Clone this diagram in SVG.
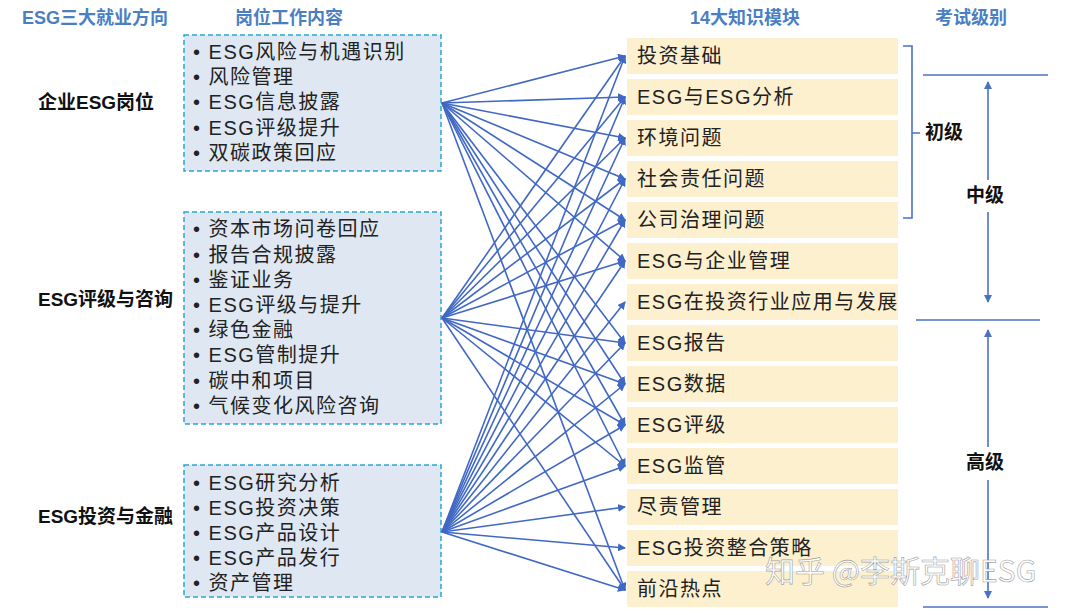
<svg xmlns="http://www.w3.org/2000/svg" width="1080" height="615" viewBox="0 0 1080 615">
<style>
.h{font:bold 18px "Liberation Sans","Noto Sans CJK SC",sans-serif;fill:#4a7fc4}
.t{font:20px "Liberation Sans","Noto Sans CJK SC",sans-serif;fill:#222;letter-spacing:1.5px}
.b{font:bold 19px "Liberation Sans","Noto Sans CJK SC",sans-serif;fill:#111}
.box{fill:#dfe8f2;stroke:#2aa7d4;stroke-width:1.5;stroke-dasharray:5 3}
.m{fill:#fdf0cf}
.c line{stroke:#4068c4;stroke-width:1.6;marker-end:url(#a)}
.lv{stroke:#4a72c4;stroke-width:1.6;fill:none}
</style>
<defs><marker id="a" markerWidth="8" markerHeight="8" refX="7" refY="4" orient="auto" markerUnits="userSpaceOnUse"><path d="M0,0L8,4L0,8z" fill="#4068c4"/></marker>
<marker id="v" markerWidth="8" markerHeight="8" refX="7" refY="4" orient="auto" markerUnits="userSpaceOnUse"><path d="M0,0L8,4L0,8z" fill="#4a72c4"/></marker></defs>
<rect width="1080" height="615" fill="#fff"/>
<g id="headers"><text class="h" x="22" y="24">ESG三大就业方向</text><text class="h" x="235" y="24">岗位工作内容</text><text class="h" x="690" y="24">14大知识模块</text><text class="h" x="935" y="24">考试级别</text></g>
<g id="dir1"><text class="b" x="38" y="109">企业ESG岗位</text></g>
<g id="dir2"><text class="b" x="38" y="306">ESG评级与咨询</text></g>
<g id="dir3"><text class="b" x="38" y="523">ESG投资与金融</text></g>
<g id="box1"><rect class="box" x="184" y="35" width="257" height="136"/>
<text class="t" x="193" y="59">•  ESG风险与机遇识别</text><text class="t" x="193" y="84">•  风险管理</text><text class="t" x="193" y="109">•  ESG信息披露</text><text class="t" x="193" y="135">•  ESG评级提升</text><text class="t" x="193" y="160">•  双碳政策回应</text></g>
<g id="box2"><rect class="box" x="184" y="212" width="257" height="212"/>
<text class="t" x="193" y="236">•  资本市场问卷回应</text><text class="t" x="193" y="262">•  报告合规披露</text><text class="t" x="193" y="287">•  鉴证业务</text><text class="t" x="193" y="312">•  ESG评级与提升</text><text class="t" x="193" y="337">•  绿色金融</text><text class="t" x="193" y="362">•  ESG管制提升</text><text class="t" x="193" y="388">•  碳中和项目</text><text class="t" x="193" y="413">•  气候变化风险咨询</text></g>
<g id="box3"><rect class="box" x="184" y="465" width="257" height="132"/>
<text class="t" x="193" y="490">•  ESG研究分析</text><text class="t" x="193" y="515">•  ESG投资决策</text><text class="t" x="193" y="540">•  ESG产品设计</text><text class="t" x="193" y="565">•  ESG产品发行</text><text class="t" x="193" y="590">•  资产管理</text></g>
<g id="modules">
<rect class="m" x="627" y="38" width="271" height="36"/><text class="t" x="637" y="63">投资基础</text>
<rect class="m" x="627" y="79" width="271" height="36"/><text class="t" x="637" y="104">ESG与ESG分析</text>
<rect class="m" x="627" y="120" width="271" height="36"/><text class="t" x="637" y="145">环境问题</text>
<rect class="m" x="627" y="161" width="271" height="36"/><text class="t" x="637" y="186">社会责任问题</text>
<rect class="m" x="627" y="202" width="271" height="36"/><text class="t" x="637" y="227">公司治理问题</text>
<rect class="m" x="627" y="243" width="271" height="36"/><text class="t" x="637" y="268">ESG与企业管理</text>
<rect class="m" x="627" y="284" width="271" height="36"/><text class="t" x="637" y="309">ESG在投资行业应用与发展</text>
<rect class="m" x="627" y="325" width="271" height="36"/><text class="t" x="637" y="350">ESG报告</text>
<rect class="m" x="627" y="366" width="271" height="36"/><text class="t" x="637" y="391">ESG数据</text>
<rect class="m" x="627" y="407" width="271" height="36"/><text class="t" x="637" y="432">ESG评级</text>
<rect class="m" x="627" y="448" width="271" height="36"/><text class="t" x="637" y="473">ESG监管</text>
<rect class="m" x="627" y="489" width="271" height="36"/><text class="t" x="637" y="514">尽责管理</text>
<rect class="m" x="627" y="530" width="271" height="36"/><text class="t" x="637" y="555">ESG投资整合策略</text>
<rect class="m" x="627" y="571" width="271" height="36"/><text class="t" x="637" y="596">前沿热点</text>
</g>
<g class="c" id="connectors">
<line x1="442" y1="103" x2="625" y2="56"/><line x1="442" y1="103" x2="625" y2="97"/><line x1="442" y1="103" x2="625" y2="138"/><line x1="442" y1="103" x2="625" y2="179"/><line x1="442" y1="103" x2="625" y2="220"/><line x1="442" y1="103" x2="625" y2="261"/><line x1="442" y1="103" x2="625" y2="343"/><line x1="442" y1="103" x2="625" y2="384"/><line x1="442" y1="103" x2="625" y2="425"/><line x1="442" y1="103" x2="625" y2="466"/><line x1="442" y1="103" x2="625" y2="590"/>
<line x1="442" y1="318" x2="625" y2="56"/><line x1="442" y1="318" x2="625" y2="97"/><line x1="442" y1="318" x2="625" y2="138"/><line x1="442" y1="318" x2="625" y2="179"/><line x1="442" y1="318" x2="625" y2="220"/><line x1="442" y1="318" x2="625" y2="261"/><line x1="442" y1="318" x2="625" y2="343"/><line x1="442" y1="318" x2="625" y2="384"/><line x1="442" y1="318" x2="625" y2="425"/><line x1="442" y1="318" x2="625" y2="466"/><line x1="442" y1="318" x2="625" y2="590"/>
<line x1="442" y1="532" x2="625" y2="56"/><line x1="442" y1="532" x2="625" y2="97"/><line x1="442" y1="532" x2="625" y2="138"/><line x1="442" y1="532" x2="625" y2="179"/><line x1="442" y1="532" x2="625" y2="220"/><line x1="442" y1="532" x2="625" y2="261"/><line x1="442" y1="532" x2="625" y2="302"/><line x1="442" y1="532" x2="625" y2="343"/><line x1="442" y1="532" x2="625" y2="384"/><line x1="442" y1="532" x2="625" y2="425"/><line x1="442" y1="532" x2="625" y2="466"/><line x1="442" y1="532" x2="625" y2="507"/><line x1="442" y1="532" x2="625" y2="548"/><line x1="442" y1="532" x2="625" y2="590"/>
</g>
<g id="levels">
<path class="lv" d="M903,46H912V218H903M912,133H920"/>
<text class="b" x="925" y="139">初级</text>
<line class="lv" x1="923" y1="75" x2="1048" y2="75"/><line class="lv" x1="916" y1="320" x2="1040" y2="320"/><line class="lv" x1="923" y1="607" x2="1048" y2="607"/>
<line class="lv" x1="988" y1="180" x2="988" y2="82" marker-end="url(#v)"/><line class="lv" x1="988" y1="212" x2="988" y2="302" marker-end="url(#v)"/>
<text class="b" x="966" y="202">中级</text>
<line class="lv" x1="988" y1="447" x2="988" y2="330" marker-end="url(#v)"/><line class="lv" x1="988" y1="480" x2="988" y2="598" marker-end="url(#v)"/>
<text class="b" x="966" y="469">高级</text>
</g>
<text x="765" y="582" style="font:30px 'Noto Sans CJK SC',sans-serif;fill:#fff;stroke:#999;stroke-width:0.6;opacity:0.9">知乎 @李斯克聊ESG</text>
</svg>
